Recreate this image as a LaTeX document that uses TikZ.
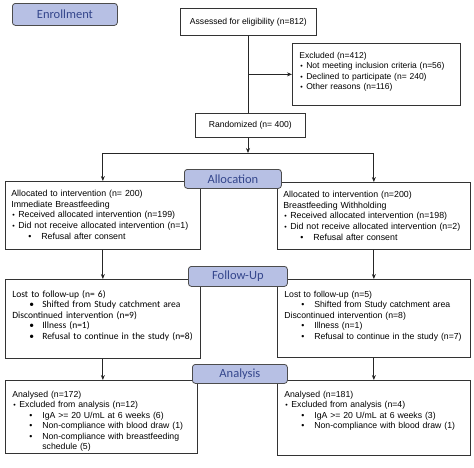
\documentclass[tikz,border=0pt]{standalone}
\usepackage{fontspec}
\setmainfont{Liberation Sans}
\newfontfamily\calfont{Carlito}
\usetikzlibrary{positioning,arrows.meta}

\definecolor{stagefill}{RGB}{183,192,228}
\definecolor{stagetext}{RGB}{52,70,140}

\newcommand{\itm}{\hspace*{1pt}\makebox[6pt][l]{\scriptsize\textbullet}}
\newcommand{\subitm}{\hspace*{17pt}\makebox[13pt][l]{\textbullet}}

\begin{document}
\begin{tikzpicture}[x=1pt,y=-1pt,>={Stealth[length=5pt,width=4pt]},
  box/.style={draw=black!80,line width=0.7pt,anchor=north west,align=left,
    inner xsep=7pt,inner ysep=4pt,text height=11pt,font=\fontsize{8.7}{10.5}\selectfont},
  cbox/.style={draw=black!80,line width=0.7pt,anchor=north west,inner sep=0pt,
    font=\fontsize{8.6}{10}\selectfont},
  stage/.style={draw=black!70,fill=stagefill,rounded corners=3pt,line width=0.8pt,
    anchor=north west,inner sep=0pt,text=stagetext,font=\calfont\fontsize{12.5}{14}\selectfont}]
  \useasboundingbox (0,0) rectangle (474,467);

  % enrollment
  \node[stage,minimum width=105pt,minimum height=22pt] (enroll) at (12,3) {Enrollment};
  \node[cbox,minimum width=136pt,minimum height=27pt] (assess) at (180,8) {Assessed for eligibility (n=812)};
  \node[box,text width=154pt,text depth=43pt,font=\fontsize{8.5}{10.5}\selectfont] (excl) at (292,43) {Excluded (n=412)\\
    \itm Not meeting inclusion criteria (n=56)\\
    \itm Declined to participate (n= 240)\\
    \itm Other reasons (n=116)};
  \node[cbox,minimum width=110pt,minimum height=24pt] (rand) at (195,113) {Randomized (n= 400)};

  % allocation
  \node[box,inner xsep=6pt,text width=183pt,text depth=49pt,font=\fontsize{8.8}{10.7}\selectfont] (allocL) at (5,181) {Allocated to intervention (n= 200)\\
    Immediate Breastfeeding\\
    \itm Received allocated intervention (n=199)\\
    \itm Did not receive allocated intervention (n=1)\\
    \subitm Refusal after consent};
  \node[box,inner xsep=6pt,text width=181pt,text depth=48pt,font=\fontsize{8.8}{10.7}\selectfont] (allocR) at (277,182) {Allocated to intervention (n=200)\\
    Breastfeeding Withholding\\
    \itm Received allocated intervention (n=198)\\
    \itm Did not receive allocated intervention (n=2)\\
    \subitm Refusal after consent};
  \node[stage,minimum width=97pt,minimum height=19pt] (stAlloc) at (184,169) {Allocation};

  % follow-up
  \node[box,text width=181pt,text height=14pt,text depth=57pt,font=\calfont\fontsize{9.5}{10.5}\selectfont] (followL) at (5,279) {Lost to follow-up (n= 6)\\
    \subitm Shifted from Study catchment area\\
    Discontinued intervention (n=9)\\
    \subitm Illness (n=1)\\
    \subitm Refusal to continue in the study (n=8)};
  \node[box,text width=179pt,text height=14pt,text depth=56pt] (followR) at (277,279) {Lost to follow-up (n=5)\\
    \subitm Shifted from Study catchment area\\
    Discontinued intervention (n=8)\\
    \subitm Illness (n=1)\\
    \subitm Refusal to continue in the study (n=7)};
  \node[stage,minimum width=99pt,minimum height=20pt] (stFollow) at (188,266) {Follow-Up};

  % analysis
  \node[box,text width=178pt,text height=13pt,text depth=52pt] (analL) at (5,380) {Analysed (n=172)\\
    \itm Excluded from analysis (n=12)\\
    \subitm IgA >= 20 U/mL at 6 weeks (6)\\
    \subitm Non-compliance with blood draw (1)\\
    \subitm Non-compliance with breastfeeding\\
    \hspace*{30pt}schedule (5)};
  \node[box,text width=179pt,text height=13pt,text depth=54pt] (analR) at (277,380) {Analysed (n=181)\\
    \itm Excluded from analysis (n=4)\\
    \subitm IgA >= 20 U/mL at 6 weeks (3)\\
    \subitm Non-compliance with blood draw (1)};
  \node[stage,minimum width=95pt,minimum height=19pt] (stAnal) at (192,364) {Analysis};

  \coordinate (split) at (248,153);
  \path[draw=black!85,line width=0.8pt]
  (assess.south) edge [] (assess.south |- rand.north)
  (assess.south |- excl.west) edge [->] (excl.west)
  (rand.south -| split) edge [->] (split)
  (split -| allocL.north) edge [] (split -| allocR.north)
  (split -| allocL.north) edge [->] (allocL.north)
  (split -| allocR.north) edge [->] (allocR.north)
  (allocL.south) edge [->] (followL.north)
  (allocR.south) edge [->] (followR.north)
  (followL.south) edge [->] (followL.south |- analL.north)
  (followR.south) edge [->] (followR.south |- analR.north)
  ;
\end{tikzpicture}
\end{document}
